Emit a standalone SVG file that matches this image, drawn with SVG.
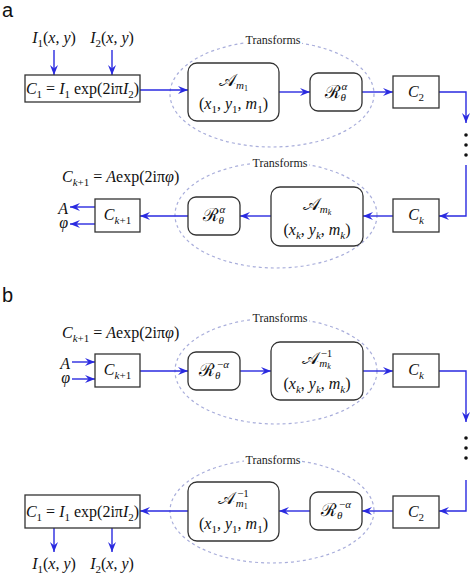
<svg xmlns="http://www.w3.org/2000/svg" width="474" height="577" viewBox="0 0 474 577">
<style>
.bx{fill:#fff;stroke:#333;stroke-width:1.3}
.el{fill:none;stroke:#a9aedb;stroke-width:1.2;stroke-dasharray:3 3}
.cn{fill:none;stroke:#2a2ae0;stroke-width:1.4;marker-end:url(#ah)}
.m{font-family:"Liberation Serif","DejaVu Serif",serif;font-size:16px;font-style:italic;fill:#111}
.u{font-style:normal}
.s{font-size:11px}
.ss{font-size:8px}
.cal{font-size:18px;font-style:normal}
.lbl{font-family:"Liberation Serif",serif;font-size:12px;fill:#222}
.pl{font-family:"Liberation Sans",Arial,sans-serif;font-size:20px;fill:#111}
.dot{fill:#111}
.bg{fill:#fff}
</style>
<defs>
<marker id="ah" viewBox="0 0 10 8" refX="10" refY="4" markerWidth="11" markerHeight="8" markerUnits="userSpaceOnUse" orient="auto">
<path d="M0,0 L10,4 L0,8 L3.5,4 Z" fill="#2a2ae0"/>
</marker>
</defs>
<rect width="474" height="577" fill="#fff"/>

<text class="pl" x="2" y="17">a</text>
<text class="pl" x="2" y="302">b</text>

<g id="ellipses">
<g id="ell-a1"><ellipse class="el" cx="272" cy="94" rx="102" ry="53"/><rect class="bg" x="244" y="34" width="58" height="13"/><text class="lbl" x="273" y="44" text-anchor="middle">Transforms</text></g>
<g id="ell-a2"><ellipse class="el" cx="276" cy="215" rx="101" ry="53"/><rect class="bg" x="251" y="157" width="58" height="13"/><text class="lbl" x="280" y="167" text-anchor="middle">Transforms</text></g>
<g id="ell-b1"><ellipse class="el" cx="276" cy="371" rx="101" ry="53"/><rect class="bg" x="251" y="312" width="58" height="13"/><text class="lbl" x="280" y="322" text-anchor="middle">Transforms</text></g>
<g id="ell-b2"><ellipse class="el" cx="272" cy="511" rx="102" ry="52"/><rect class="bg" x="244" y="454" width="58" height="13"/><text class="lbl" x="273" y="464" text-anchor="middle">Transforms</text></g>
</g>

<g id="connectors">
<path class="cn" d="M54,50 V75"/>
<path class="cn" d="M112,50 V75"/>
<path class="cn" d="M140,90 H188"/>
<path class="cn" d="M279,92 H310"/>
<path class="cn" d="M362,92 H393"/>
<path class="cn" d="M439,92 H466 V123"/>
<path class="cn" d="M466,165 V216 H439"/>
<path class="cn" d="M393,216 H363"/>
<path class="cn" d="M271,216 H240"/>
<path class="cn" d="M188,216 H140"/>
<path class="cn" d="M95,207 H70"/>
<path class="cn" d="M95,224 H70"/>
<path class="cn" d="M72,362 H95"/>
<path class="cn" d="M72,379 H95"/>
<path class="cn" d="M140,371 H188"/>
<path class="cn" d="M240,371 H271"/>
<path class="cn" d="M363,371 H393"/>
<path class="cn" d="M439,371 H466 V422"/>
<path class="cn" d="M466,480 V511 H439"/>
<path class="cn" d="M393,511 H362"/>
<path class="cn" d="M310,511 H279"/>
<path class="cn" d="M188,511 H140"/>
<path class="cn" d="M54,528 V552"/>
<path class="cn" d="M112,528 V552"/>
<circle class="dot" cx="466" cy="135" r="1.8"/>
<circle class="dot" cx="466" cy="145" r="1.8"/>
<circle class="dot" cx="466" cy="155" r="1.8"/>
<circle class="dot" cx="466" cy="438" r="1.8"/>
<circle class="dot" cx="466" cy="448" r="1.8"/>
<circle class="dot" cx="466" cy="458" r="1.8"/>
</g>

<g id="a-I1"><text class="m" x="54" y="43" text-anchor="middle">I<tspan class="s u" dy="4">1</tspan><tspan class="u" dy="-4">(</tspan>x<tspan class="u">, </tspan>y<tspan class="u">)</tspan></text></g>
<g id="a-I2"><text class="m" x="112" y="43" text-anchor="middle">I<tspan class="s u" dy="4">2</tspan><tspan class="u" dy="-4">(</tspan>x<tspan class="u">, </tspan>y<tspan class="u">)</tspan></text></g>

<g id="a-C1"><rect class="bx" x="25" y="75" width="115" height="27"/>
<text class="m" x="82.5" y="94" text-anchor="middle">C<tspan class="s u" dy="4">1</tspan><tspan class="u" dy="-4"> = </tspan>I<tspan class="s u" dy="4">1</tspan><tspan class="u" dy="-4"> exp(2iπ</tspan>I<tspan class="s u" dy="4">2</tspan><tspan class="u" dy="-4">)</tspan></text></g>

<g id="a-Am1"><rect class="bx" x="188" y="63" width="91" height="58" rx="9"/>
<text class="m" x="233.5" y="86" text-anchor="middle"><tspan class="cal">𝒜</tspan><tspan class="s" dy="3">m</tspan><tspan class="ss u" dy="2">1</tspan></text>
<text class="m" x="233.5" y="109" text-anchor="middle"><tspan class="u">(</tspan>x<tspan class="s u" dy="4">1</tspan><tspan class="u" dy="-4">, </tspan>y<tspan class="s u" dy="4">1</tspan><tspan class="u" dy="-4">, </tspan>m<tspan class="s u" dy="4">1</tspan><tspan class="u" dy="-4">)</tspan></text></g>

<g id="a-R1"><rect class="bx" x="310" y="73" width="52" height="38" rx="8"/>
<text class="m" x="336" y="98" text-anchor="middle"><tspan class="cal">ℛ</tspan><tspan class="s" dx="1" dy="-8">α</tspan><tspan class="s" dx="-7" dy="11">θ</tspan></text></g>

<g id="a-C2"><rect class="bx" x="393" y="76" width="46" height="32"/>
<text class="m" x="416" y="97" text-anchor="middle">C<tspan class="s u" dy="4">2</tspan></text></g>

<g id="a-Ck"><rect class="bx" x="393" y="199" width="46" height="33"/>
<text class="m" x="416" y="220" text-anchor="middle">C<tspan class="s" dy="4">k</tspan></text></g>

<g id="a-Amk"><rect class="bx" x="271" y="187" width="92" height="59" rx="9"/>
<text class="m" x="317" y="210" text-anchor="middle"><tspan class="cal">𝒜</tspan><tspan class="s" dy="3">m</tspan><tspan class="ss" dy="2">k</tspan></text>
<text class="m" x="317" y="235" text-anchor="middle"><tspan class="u">(</tspan>x<tspan class="s" dy="4">k</tspan><tspan class="u" dy="-4">, </tspan>y<tspan class="s" dy="4">k</tspan><tspan class="u" dy="-4">, </tspan>m<tspan class="s" dy="4">k</tspan><tspan class="u" dy="-4">)</tspan></text></g>

<g id="a-R2"><rect class="bx" x="188" y="197" width="52" height="38" rx="8"/>
<text class="m" x="214" y="221" text-anchor="middle"><tspan class="cal">ℛ</tspan><tspan class="s" dx="1" dy="-8">α</tspan><tspan class="s" dx="-7" dy="11">θ</tspan></text></g>

<g id="a-Ck1"><rect class="bx" x="95" y="199" width="45" height="33"/>
<text class="m" x="117.5" y="220" text-anchor="middle">C<tspan class="s" dy="4">k</tspan><tspan class="s u">+1</tspan></text></g>

<g id="a-out"><text class="m" x="68" y="214" text-anchor="end">A</text><text class="m" x="68" y="228" text-anchor="end">φ</text></g>

<g id="a-formula"><text class="m" x="62" y="182">C<tspan class="s" dy="4">k</tspan><tspan class="s u">+1</tspan><tspan class="u" dy="-4"> = </tspan>A<tspan class="u">exp(2iπ</tspan>φ<tspan class="u">)</tspan></text></g>

<g id="b-formula"><text class="m" x="62" y="338">C<tspan class="s" dy="4">k</tspan><tspan class="s u">+1</tspan><tspan class="u" dy="-4"> = </tspan>A<tspan class="u">exp(2iπ</tspan>φ<tspan class="u">)</tspan></text></g>

<g id="b-in"><text class="m" x="70" y="369" text-anchor="end">A</text><text class="m" x="70" y="383" text-anchor="end">φ</text></g>

<g id="b-Ck1"><rect class="bx" x="95" y="354" width="45" height="33"/>
<text class="m" x="117.5" y="375" text-anchor="middle">C<tspan class="s" dy="4">k</tspan><tspan class="s u">+1</tspan></text></g>

<g id="b-R1"><rect class="bx" x="188" y="352" width="52" height="38" rx="8"/>
<text class="m" x="214" y="376" text-anchor="middle"><tspan class="cal">ℛ</tspan><tspan class="s u" dx="2" dy="-8">−</tspan><tspan class="s">α</tspan><tspan class="s" dx="-14" dy="11">θ</tspan></text></g>

<g id="b-Amk"><rect class="bx" x="271" y="342" width="92" height="58" rx="9"/>
<text class="m" x="317" y="364" text-anchor="middle"><tspan class="cal">𝒜</tspan><tspan class="s u" dx="2" dy="-7">−1</tspan><tspan class="s" dx="-13" dy="10">m</tspan><tspan class="ss" dy="2">k</tspan></text>
<text class="m" x="317" y="389" text-anchor="middle"><tspan class="u">(</tspan>x<tspan class="s" dy="4">k</tspan><tspan class="u" dy="-4">, </tspan>y<tspan class="s" dy="4">k</tspan><tspan class="u" dy="-4">, </tspan>m<tspan class="s" dy="4">k</tspan><tspan class="u" dy="-4">)</tspan></text></g>

<g id="b-Ck"><rect class="bx" x="393" y="354" width="46" height="33"/>
<text class="m" x="416" y="375" text-anchor="middle">C<tspan class="s" dy="4">k</tspan></text></g>

<g id="b-C2"><rect class="bx" x="393" y="496" width="46" height="32"/>
<text class="m" x="416" y="517" text-anchor="middle">C<tspan class="s u" dy="4">2</tspan></text></g>

<g id="b-R2"><rect class="bx" x="310" y="492" width="52" height="38" rx="8"/>
<text class="m" x="336" y="516" text-anchor="middle"><tspan class="cal">ℛ</tspan><tspan class="s u" dx="2" dy="-8">−</tspan><tspan class="s">α</tspan><tspan class="s" dx="-14" dy="11">θ</tspan></text></g>

<g id="b-Am1"><rect class="bx" x="188" y="482" width="91" height="59" rx="9"/>
<text class="m" x="233.5" y="504" text-anchor="middle"><tspan class="cal">𝒜</tspan><tspan class="s u" dx="2" dy="-7">−1</tspan><tspan class="s" dx="-13" dy="10">m</tspan><tspan class="ss u" dy="2">1</tspan></text>
<text class="m" x="233.5" y="529" text-anchor="middle"><tspan class="u">(</tspan>x<tspan class="s u" dy="4">1</tspan><tspan class="u" dy="-4">, </tspan>y<tspan class="s u" dy="4">1</tspan><tspan class="u" dy="-4">, </tspan>m<tspan class="s u" dy="4">1</tspan><tspan class="u" dy="-4">)</tspan></text></g>

<g id="b-C1"><rect class="bx" x="25" y="495" width="115" height="33"/>
<text class="m" x="82.5" y="517" text-anchor="middle">C<tspan class="s u" dy="4">1</tspan><tspan class="u" dy="-4"> = </tspan>I<tspan class="s u" dy="4">1</tspan><tspan class="u" dy="-4"> exp(2iπ</tspan>I<tspan class="s u" dy="4">2</tspan><tspan class="u" dy="-4">)</tspan></text></g>

<g id="b-I1"><text class="m" x="54" y="569" text-anchor="middle">I<tspan class="s u" dy="4">1</tspan><tspan class="u" dy="-4">(</tspan>x<tspan class="u">, </tspan>y<tspan class="u">)</tspan></text></g>
<g id="b-I2"><text class="m" x="112" y="569" text-anchor="middle">I<tspan class="s u" dy="4">2</tspan><tspan class="u" dy="-4">(</tspan>x<tspan class="u">, </tspan>y<tspan class="u">)</tspan></text></g>
</svg>
